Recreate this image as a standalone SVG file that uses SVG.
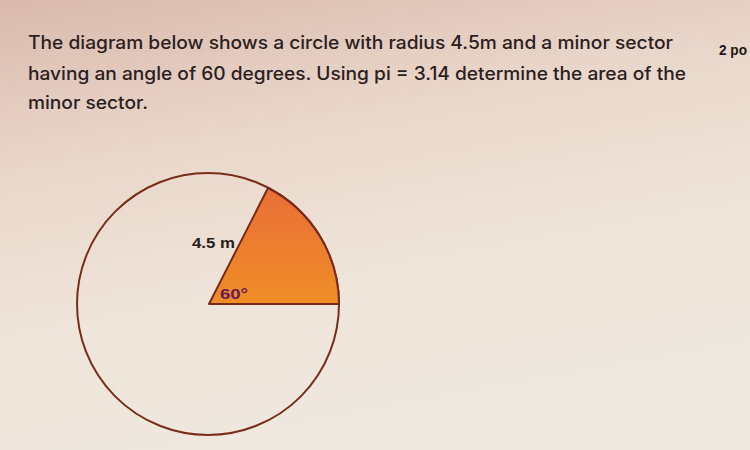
<svg xmlns="http://www.w3.org/2000/svg" width="750" height="450" viewBox="0 0 750 450">
  <defs>
    <linearGradient id="bg" x1="0" y1="0" x2="0.3" y2="1">
      <stop offset="0" stop-color="#dab9ad"/>
      <stop offset="0.35" stop-color="#e9d6ca"/>
      <stop offset="0.7" stop-color="#efe5da"/>
      <stop offset="1" stop-color="#efe8de"/>
    </linearGradient>
    <linearGradient id="sec" x1="0" y1="0" x2="0" y2="1">
      <stop offset="0" stop-color="#e96e38"/>
      <stop offset="1" stop-color="#f08e26"/>
    </linearGradient>
    <style>
      .q { font-family: Inter, Lato, "Liberation Sans", sans-serif; font-weight: 500; font-size: 18px; fill: #2b2020; }
      .lbl { font-family: "Liberation Sans", Arial, sans-serif; font-weight: bold; font-size: 15px; }
      .edge { fill: none; stroke: #7a2c1c; stroke-width: 2; }
    </style>
  </defs>
  <rect width="750" height="450" fill="url(#bg)"/>

  <g id="question">
    <text class="q" x="28" y="49" textLength="645" lengthAdjust="spacingAndGlyphs">The diagram below shows a circle with radius 4.5m and a minor sector</text>
    <text class="q" x="28" y="80" textLength="658" lengthAdjust="spacingAndGlyphs">having an angle of 60 degrees. Using pi = 3.14 determine the area of the</text>
    <text class="q" x="28" y="109" textLength="120" lengthAdjust="spacingAndGlyphs">minor sector.</text>
    <text x="719" y="55" font-family="'Liberation Sans', Arial, sans-serif" font-weight="bold" font-size="15" fill="#1e1616" textLength="28" lengthAdjust="spacingAndGlyphs">2 po</text>
  </g>

  <g id="circle">
    <circle cx="208" cy="304" r="131" fill="#f2eae1" class="edge"/>
  </g>

  <g id="sector">
    <path d="M209,304 L268,188 A131,131 0 0 1 339,304 Z" fill="url(#sec)" stroke="#7a2a18" stroke-width="2" stroke-linejoin="round"/>
  </g>

  <g id="labels">
    <text class="lbl" x="192" y="248" fill="#2a1e1a" textLength="43" lengthAdjust="spacingAndGlyphs">4.5 m</text>
    <text class="lbl" x="220" y="299" fill="#6a1a55" textLength="28" lengthAdjust="spacingAndGlyphs">60°</text>
  </g>
</svg>
